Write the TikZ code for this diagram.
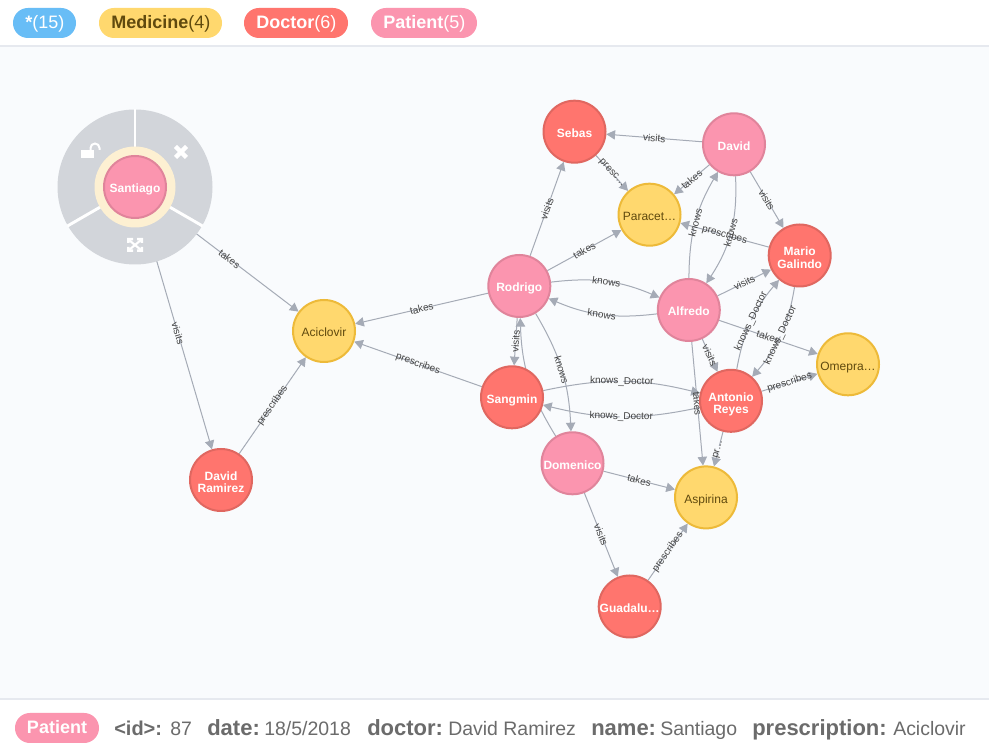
\documentclass[tikz,border=0pt]{standalone}
\usepackage{fontspec}
\setmainfont{Liberation Sans}
\usetikzlibrary{arrows.meta,calc,backgrounds}
\definecolor{pat}{HTML}{FB95AF}\definecolor{patb}{HTML}{E0849B}
\definecolor{doc}{HTML}{FF756E}\definecolor{docb}{HTML}{E06760}
\definecolor{med}{HTML}{FFD86E}\definecolor{medb}{HTML}{EDBA39}\definecolor{medt}{HTML}{604A0E}
\definecolor{allc}{HTML}{68BDF6}
\definecolor{lin}{HTML}{A5ABB6}\definecolor{canv}{HTML}{F9FBFD}\definecolor{sepc}{HTML}{E6E9EF}
\definecolor{menu}{HTML}{D2D5DA}\definecolor{halo}{HTML}{FDF0D2}\definecolor{tick}{HTML}{B0A582}
\definecolor{foot}{HTML}{6B6B6B}\definecolor{elab}{HTML}{444444}
\pgfdeclarelayer{backl}\pgfdeclarelayer{edgel}\pgfdeclarelayer{menul}
\pgfsetlayers{backl,edgel,menul,main}
\newlength\lblw
\newcommand\efont{\fontsize{7.5}{8}\selectfont}
\newcommand\one[1]{\makebox[0pt]{\raisebox{-4.5pt}[0pt][0pt]{#1}}}
\newcommand\two[2]{\makebox[0pt]{\raisebox{-0.3pt}[0pt][0pt]{#1}}\makebox[0pt]{\raisebox{-9.5pt}[0pt][0pt]{#2}}}
\newcommand\ged[4][]{%
  \settowidth{\lblw}{\efont #4}%
  \path let \p1=($(#2.center)-(#3.center)$), \n1={(veclen(\x1,\y1)-48pt-\lblw)/2-2.5pt} in \pgfextra{\xdef\gon{\n1}};%
  \pgfmathsetmacro\goff{\lblw+5pt}%
  \draw[gline,dash pattern=on \gon off \goff pt on 2000pt off 1pt] (#2) to[#1] node[elabel]{#4} (#3);%
}
\tikzset{
  x=0.75pt,y=0.75pt,
  gnode/.style={circle,minimum size=46.5pt,inner sep=0pt,line width=1.5pt,
    font=\fontsize{9}{9.6}\selectfont},
  patient/.style={gnode,draw=patb,fill=pat,text=white,font=\fontsize{9}{9.6}\selectfont\bfseries},
  doctor/.style={gnode,draw=docb,fill=doc,text=white,font=\fontsize{9}{9.6}\selectfont\bfseries},
  medicine/.style={gnode,draw=medb,fill=med,text=medt},
  gline/.style={draw=lin,line width=0.75pt,-{Triangle[length=6.5pt,width=7pt]}},
  elabel/.style={sloped,inner sep=0pt,pos=.5,text=elab,font=\efont},
  pill/.style={rounded corners=11.2pt,minimum height=22.5pt,inner sep=0pt,font=\fontsize{13.5}{15}\selectfont},
  ftb/.style={anchor=base west,inner sep=0pt,text=foot,font=\fontsize{16.5}{18}\selectfont\bfseries},
  ftn/.style={anchor=base west,inner sep=0pt,text=foot,font=\fontsize{14.6}{16}\selectfont},
  icon/.style={white,line width=1.5pt},
}
\begin{document}
\begin{tikzpicture}
\useasboundingbox (0,0) rectangle (989,753);
\begin{pgfonlayer}{backl}
  \fill[white] (0,0) rectangle (989,753);
  \fill[canv] (0,753-46) rectangle (989,753-699);
  \fill[sepc] (0,753-45) rectangle (989,753-47);
  \fill[sepc] (0,753-698) rectangle (989,753-700);
\end{pgfonlayer}
% radial menu
\fill[menu] (135,753-187) circle (77.5);
\draw[white,line width=2.2pt] (135,753-187) -- ++(90:78);
\draw[white,line width=2.2pt] (135,753-187) -- ++(-30:78);
\draw[white,line width=2.2pt] (135,753-187) -- ++(210:78);
\fill[halo] (135,753-187) circle (40.5);
% unlock icon
\fill[white] (81,753-150) rectangle (94,753-158);
\draw[icon] (90.5,753-150) -- (90.5,753-148) arc (180:0:4.5) -- (99.5,753-150);
% close icon
\draw[white,line width=3.2pt] (175.5,753-146.5) -- (186.5,753-157.5);
\draw[white,line width=3.2pt] (175.5,753-157.5) -- (186.5,753-146.5);
% expand icon
\draw[white,line width=1.6pt] (129,753-240) -- (141,753-250);
\draw[white,line width=1.6pt] (141,753-240) -- (129,753-250);
\fill[white] (127,753-238) -- (133,753-238) -- (133,753-240.5) -- (129.5,753-240.5) -- (129.5,753-243) -- (127,753-243) -- cycle;
\fill[white] (143,753-238) -- (137,753-238) -- (137,753-240.5) -- (140.5,753-240.5) -- (140.5,753-243) -- (143,753-243) -- cycle;
\fill[white] (127,753-252) -- (133,753-252) -- (133,753-249.5) -- (129.5,753-249.5) -- (129.5,753-247) -- (127,753-247) -- cycle;
\fill[white] (143,753-252) -- (137,753-252) -- (137,753-249.5) -- (140.5,753-249.5) -- (140.5,753-247) -- (143,753-247) -- cycle;
% pills
\node[pill,fill=allc,text=white,minimum width=47.25pt] (pa) at (44.5,753-23) {\hspace{.7pt}\one{\textbf{*}(15)}};
\node[pill,fill=med,text=medt,minimum width=92.25pt] (pm) at (160.5,753-23) {\hspace{.7pt}\one{\textbf{Medicine}(4)}};
\node[pill,fill=doc,text=white,minimum width=78pt] (pd) at (296,753-23) {\hspace{.7pt}\one{\textbf{Doctor}(6)}};
\node[pill,fill=pat,text=white,minimum width=79.5pt] (pp) at (424,753-23) {\hspace{.7pt}\one{\textbf{Patient}(5)}};
% graph nodes
\node[patient] (santiago) at (135,753-187) {\one{Santiago}};
\node[doctor] (sebas) at (574.5,753-131.7) {\one{Sebas}};
\node[patient] (david) at (734,753-144.3) {\one{David}};
\node[medicine] (paracet) at (649.5,753-214.7) {\one{Paracet…}};
\node[doctor] (mario) at (799.7,753-255.5) {\two{Mario}{Galindo}};
\node[patient] (rodrigo) at (519.3,753-286) {\one{Rodrigo}};
\node[patient] (alfredo) at (688.8,753-310) {\one{Alfredo}};
\node[medicine] (aciclovir) at (324,753-331) {\one{Aciclovir}};
\node[medicine] (omepra) at (848,753-364.3) {\one{Omepra…}};
\node[doctor] (sangmin) at (512,753-397.3) {\one{Sangmin}};
\node[doctor] (antonio) at (731,753-400.8) {\two{Antonio}{Reyes}};
\node[patient] (domenico) at (572.5,753-463.3) {\one{Domenico}};
\node[medicine] (aspirina) at (706,753-497.4) {\one{Aspirina}};
\node[doctor] (dramirez) at (221,753-480) {\two{David}{Ramirez}};
\node[doctor] (guadalu) at (629.7,753-606.5) {\one{Guadalu…}};
% edges
\begin{pgfonlayer}{edgel}
\ged{santiago}{aciclovir}{takes}
\ged{santiago}{dramirez}{visits}
\ged{dramirez}{aciclovir}{prescribes}
\ged{rodrigo}{aciclovir}{takes}
\ged{sangmin}{aciclovir}{prescribes}
\ged{rodrigo}{sebas}{visits}
\ged{rodrigo}{paracet}{takes}
\ged[bend left=15]{rodrigo}{alfredo}{knows}
\ged[bend left=15]{alfredo}{rodrigo}{knows}
\ged{rodrigo}{sangmin}{visits}
\draw[gline] (domenico) to[bend left=15] (rodrigo);
\ged[bend left=14]{rodrigo}{domenico}{knows}
\ged[bend left=13]{sangmin}{antonio}{knows\_Doctor}
\ged[bend left=13]{antonio}{sangmin}{knows\_Doctor}
\ged{domenico}{aspirina}{takes}
\ged{domenico}{guadalu}{visits}
\ged{guadalu}{aspirina}{prescribes}
\ged{antonio}{aspirina}{pr…}
\ged{alfredo}{aspirina}{takes}
\ged{alfredo}{antonio}{visits}
\ged{alfredo}{omepra}{takes}
\ged{alfredo}{mario}{visits}
\ged[bend left=15]{antonio}{mario}{knows\_Doctor}
\ged[bend left=16]{mario}{antonio}{knows\_Doctor}
\ged{antonio}{omepra}{prescribes}
\ged{mario}{paracet}{prescribes}
\ged{david}{paracet}{takes}
\ged{david}{sebas}{visits}
\ged{sebas}{paracet}{presc…}
\ged{david}{mario}{visits}
\ged[bend left=18]{david}{alfredo}{knows}
\ged[bend left=15]{alfredo}{david}{knows}
\end{pgfonlayer}
% edges seen through the halo
\begin{pgfonlayer}{menul}
\begin{scope}
  \clip (135,753-187) circle (40.5);
  \draw[tick,line width=0.75pt] (santiago) -- (aciclovir);
  \draw[tick,line width=0.75pt] (santiago) -- (dramirez);
\end{scope}
\end{pgfonlayer}
% footer
\node[pill,fill=pat,text=white,minimum width=63pt] (fp) at (57,753-728) {\one{\textbf{Patient}}};
\node[ftb,font=\fontsize{15}{18}\selectfont\bfseries] (f1) at (114,753-736) {<id>:};
\node[ftn] (f2) at (170,753-736) {87};
\node[ftb] (f3) at (207,753-736) {date:};
\node[ftn] (f4) at (264,753-736) {18/5/2018};
\node[ftb] (f5) at (367,753-736) {doctor:};
\node[ftn] (f6) at (448,753-736) {David Ramirez};
\node[ftb] (f7) at (591,753-736) {name:};
\node[ftn] (f8) at (660,753-736) {Santiago};
\node[ftb] (f9) at (752,753-736) {prescription:};
\node[ftn] (f10) at (893,753-736) {Aciclovir};
\end{tikzpicture}
\end{document}
